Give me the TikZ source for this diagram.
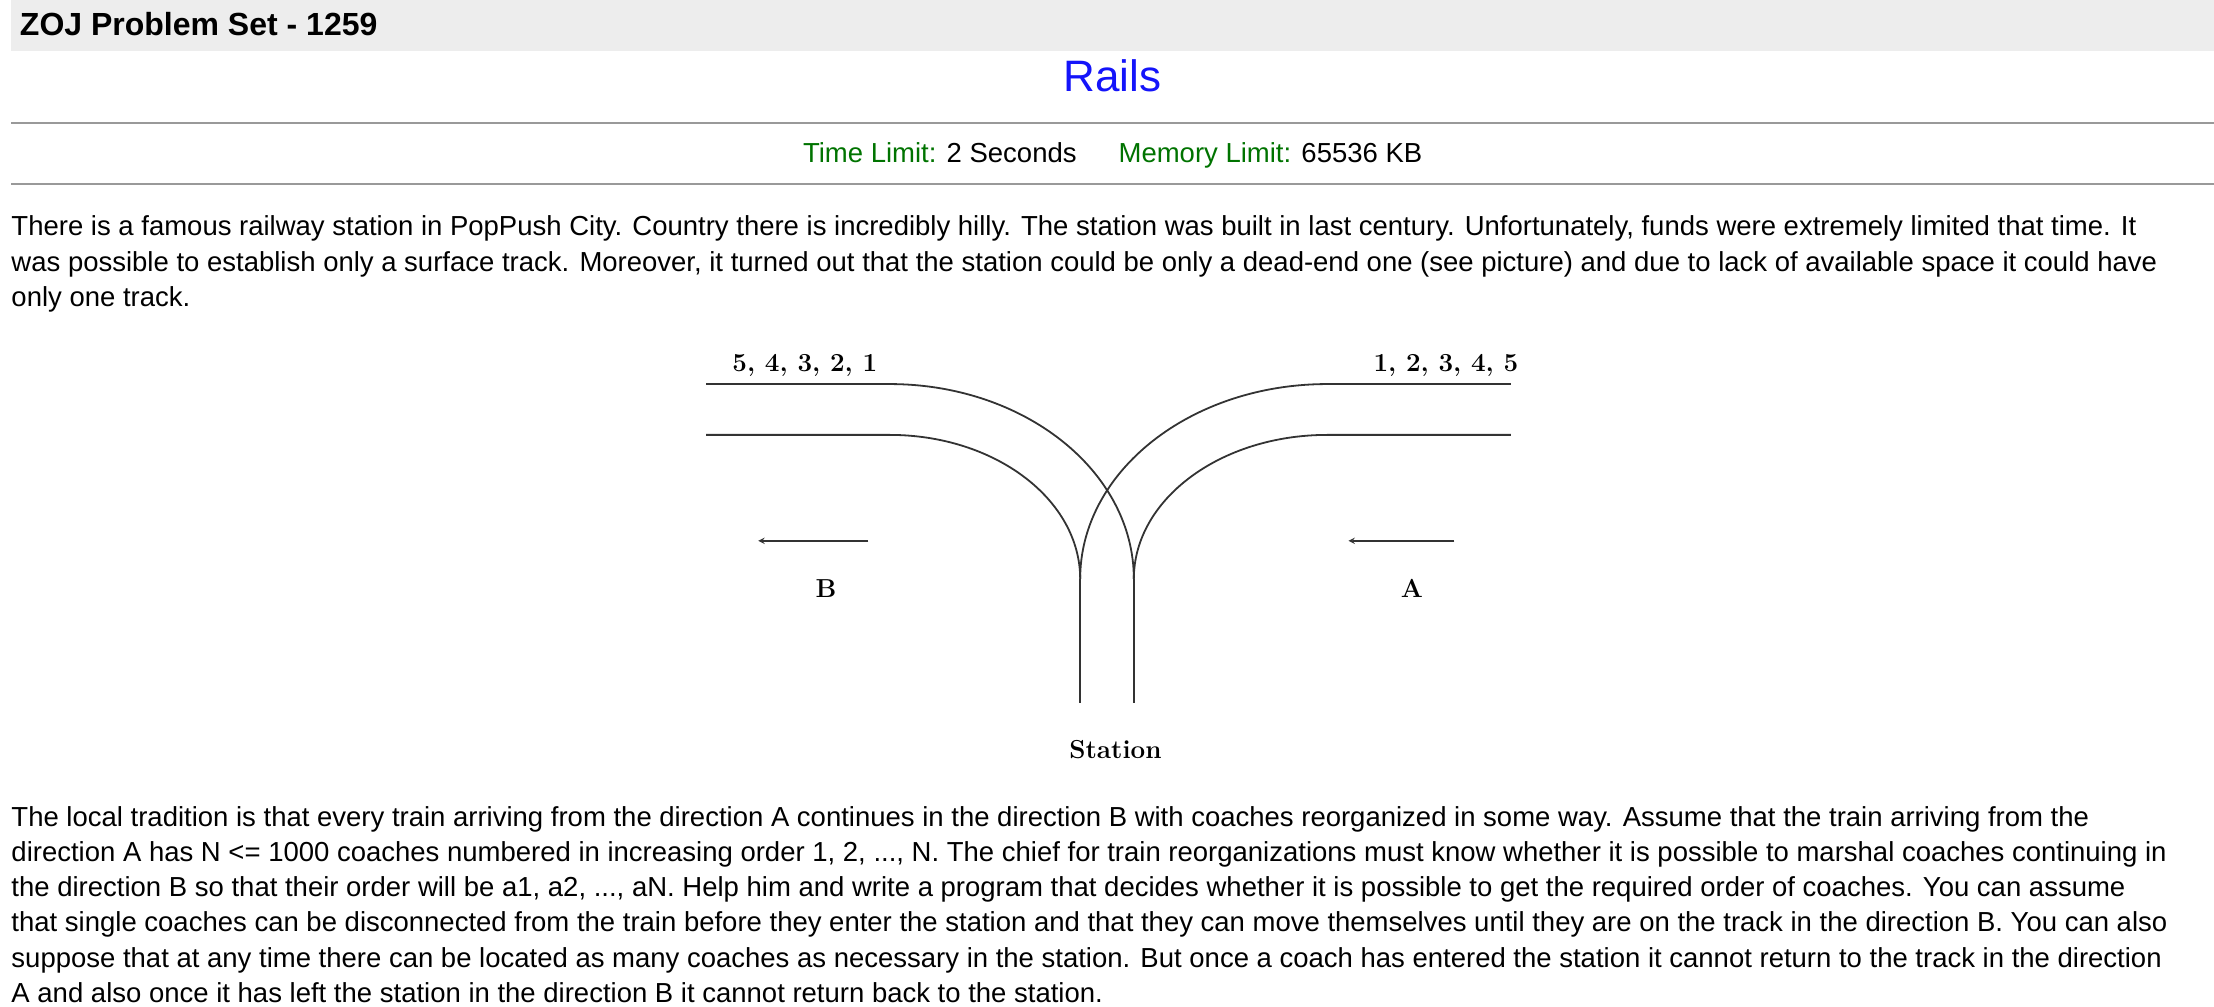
\documentclass[tikz,border=0pt]{standalone}
\usepackage{fontspec}
\setmainfont{Liberation Sans}
\newfontfamily\lmfont{Latin Modern Roman}
\begin{document}
\begin{tikzpicture}[x=1.412pt,y=-1.412pt,
  txt/.style={anchor=base west,inner sep=0pt,font=\fontsize{27.5}{30}\selectfont},
  fig/.style={inner sep=0pt,font=\lmfont\bfseries\fontsize{26}{30}\selectfont},
  rail/.style={line width=1.8pt,black!80},
  rulel/.style={line width=2pt,black!40}]
\useasboundingbox (0,0) rectangle (1568,712.5);
\fill[black!7] (8,0) rectangle (1568,36);
\node[txt,font=\bfseries\fontsize{32}{34}\selectfont] (hdr) at (14,25) {ZOJ Problem Set - 1259};
\node[anchor=base,inner sep=0pt,text={rgb,255:red,20;green,20;blue,250},font=\fontsize{44}{52}\selectfont] (title) at (788,65) {Rails};
\draw[rulel] (8,87) -- (1568,87);
\node[anchor=base,inner sep=0pt,font=\fontsize{27.5}{30}\selectfont] (lim) at (788,115) {\textcolor{green!45!black}{Time Limit:} 2 Seconds\hspace{42pt}\textcolor{green!45!black}{Memory Limit:} 65536 KB};
\draw[rulel] (8,130) -- (1568,130);
\node[txt] (p1) at (8,167) {There is a famous railway station in PopPush City. Country there is incredibly hilly. The station was built in last century. Unfortunately, funds were extremely limited that time. It};
\node[txt] (p2) at (8,192) {was possible to establish only a surface track. Moreover, it turned out that the station could be only a dead-end one (see picture) and due to lack of available space it could have};
\node[txt] (p3) at (8,217) {only one track.};
% figure
\draw[rail] (500,272) -- (630,272) arc[start angle=-90,end angle=0,x radius=173,y radius=138];
\draw[rail] (500,308) -- (630,308) arc[start angle=-90,end angle=0,x radius=135,y radius=102];
\draw[rail] (1070,272) -- (940,272) arc[start angle=-90,end angle=-180,x radius=175,y radius=138];
\draw[rail] (1070,308) -- (940,308) arc[start angle=-90,end angle=-180,x radius=137,y radius=102];
\draw[rail] (765,410) -- (765,498);
\draw[rail] (803,410) -- (803,498);
\node[fig,anchor=base] (l1) at (570,263) {5, 4, 3, 2, 1};
\node[fig,anchor=base] (l2) at (1024,263) {1, 2, 3, 4, 5};
\coordinate (bs) at (615,383); \coordinate (be) at (537,383);
\coordinate (as) at (1030,383); \coordinate (ae) at (955,383);
\draw[rail,-stealth] (bs) -- (be);
\draw[rail,-stealth] (as) -- (ae);
\node[fig,anchor=base] (B) at (585,423) {B};
\node[fig,anchor=base] (A) at (1000,423) {A};
\node[fig,anchor=base] (st) at (790,537) {Station};
\node[txt] (q1) at (8,585) {The local tradition is that every train arriving from the direction A continues in the direction B with coaches reorganized in some way. Assume that the train arriving from the};
\node[txt] (q2) at (8,610) {direction A has N <= 1000 coaches numbered in increasing order 1, 2, ..., N. The chief for train reorganizations must know whether it is possible to marshal coaches continuing in};
\node[txt] (q3) at (8,635) {the direction B so that their order will be a1, a2, ..., aN. Help him and write a program that decides whether it is possible to get the required order of coaches. You can assume};
\node[txt] (q4) at (8,660) {that single coaches can be disconnected from the train before they enter the station and that they can move themselves until they are on the track in the direction B. You can also};
\node[txt] (q5) at (8,685) {suppose that at any time there can be located as many coaches as necessary in the station. But once a coach has entered the station it cannot return to the track in the direction};
\node[txt] (q6) at (8,710) {A and also once it has left the station in the direction B it cannot return back to the station.};
\end{tikzpicture}
\end{document}
